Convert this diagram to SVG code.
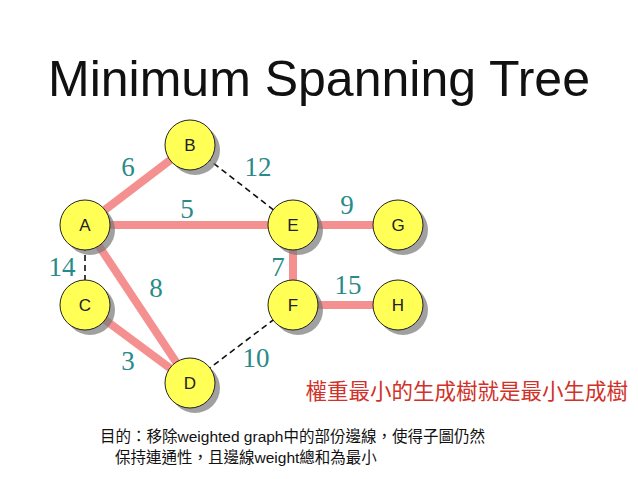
<svg xmlns="http://www.w3.org/2000/svg" width="638" height="479" viewBox="0 0 638 479">
<style>
.sh{fill:#777;opacity:0.7}
.nd{fill:#ffff55;stroke:#222;stroke-width:1}
.nl{font-family:"Liberation Sans",Arial,sans-serif;font-size:17px;text-anchor:middle;fill:#222}
.mst{stroke:#f4908f;stroke-width:8;stroke-linecap:butt}
.dash{stroke:#111;stroke-width:1.6;stroke-dasharray:6,4}
.w{font-family:"Liberation Serif","Times New Roman",serif;font-size:27px;fill:#2a8a8a;text-anchor:middle}
</style>
<rect width="638" height="479" fill="#fff"/>
<text x="319" y="96" font-family="Liberation Sans,Arial,sans-serif" font-size="50" text-anchor="middle" fill="#111">Minimum Spanning Tree</text>
<g id="connectors">
<line class="mst" x1="85" y1="225" x2="190" y2="145"/>
<line class="mst" x1="85" y1="225" x2="293" y2="225"/>
<line class="mst" x1="85" y1="225" x2="190" y2="383"/>
<line class="mst" x1="85" y1="305" x2="190" y2="383"/>
<line class="mst" x1="293" y1="225" x2="398" y2="225"/>
<line class="mst" x1="293" y1="225" x2="293" y2="305"/>
<line class="mst" x1="293" y1="305" x2="398" y2="305"/>
<line class="dash" x1="190" y1="145" x2="293" y2="225"/>
<line class="dash" x1="85" y1="225" x2="85" y2="305"/>
<line class="dash" x1="190" y1="383" x2="293" y2="305"/>
</g>
<g id="weights">
<text class="w" x="128" y="176">6</text>
<text class="w" x="258" y="176">12</text>
<text class="w" x="187" y="218">5</text>
<text class="w" x="347" y="214">9</text>
<text class="w" x="62" y="276">14</text>
<text class="w" x="278" y="276">7</text>
<text class="w" x="156" y="297">8</text>
<text class="w" x="348" y="294">15</text>
<text class="w" x="128" y="370">3</text>
<text class="w" x="256" y="367">10</text>
</g>
<g id="node-A"><circle class="sh" cx="90" cy="230" r="25"/><circle class="nd" cx="85" cy="225" r="25"/><text class="nl" x="85" y="231">A</text></g>
<g id="node-B"><circle class="sh" cx="195" cy="150" r="25"/><circle class="nd" cx="190" cy="145" r="25"/><text class="nl" x="190" y="151">B</text></g>
<g id="node-C"><circle class="sh" cx="90" cy="310" r="25"/><circle class="nd" cx="85" cy="305" r="25"/><text class="nl" x="85" y="311">C</text></g>
<g id="node-D"><circle class="sh" cx="195" cy="388" r="25"/><circle class="nd" cx="190" cy="383" r="25"/><text class="nl" x="190" y="389">D</text></g>
<g id="node-E"><circle class="sh" cx="298" cy="230" r="25"/><circle class="nd" cx="293" cy="225" r="25"/><text class="nl" x="293" y="231">E</text></g>
<g id="node-F"><circle class="sh" cx="298" cy="310" r="25"/><circle class="nd" cx="293" cy="305" r="25"/><text class="nl" x="293" y="311">F</text></g>
<g id="node-G"><circle class="sh" cx="403" cy="230" r="25"/><circle class="nd" cx="398" cy="225" r="25"/><text class="nl" x="398" y="231">G</text></g>
<g id="node-H"><circle class="sh" cx="403" cy="310" r="25"/><circle class="nd" cx="398" cy="305" r="25"/><text class="nl" x="398" y="311">H</text></g>
<text x="628" y="399" font-family="Liberation Sans,'Noto Sans CJK TC',sans-serif" font-size="21.5" text-anchor="end" fill="#d0322a">權重最小的生成樹就是最小生成樹</text>
<text x="100" y="442" font-family="Liberation Sans,'Noto Sans CJK TC',sans-serif" font-size="15.5" fill="#111">目的：移除weighted graph中的部份邊線，使得子圖仍然</text>
<text x="115" y="463" font-family="Liberation Sans,'Noto Sans CJK TC',sans-serif" font-size="15.5" fill="#111">保持連通性，且邊線weight總和為最小</text>
</svg>
